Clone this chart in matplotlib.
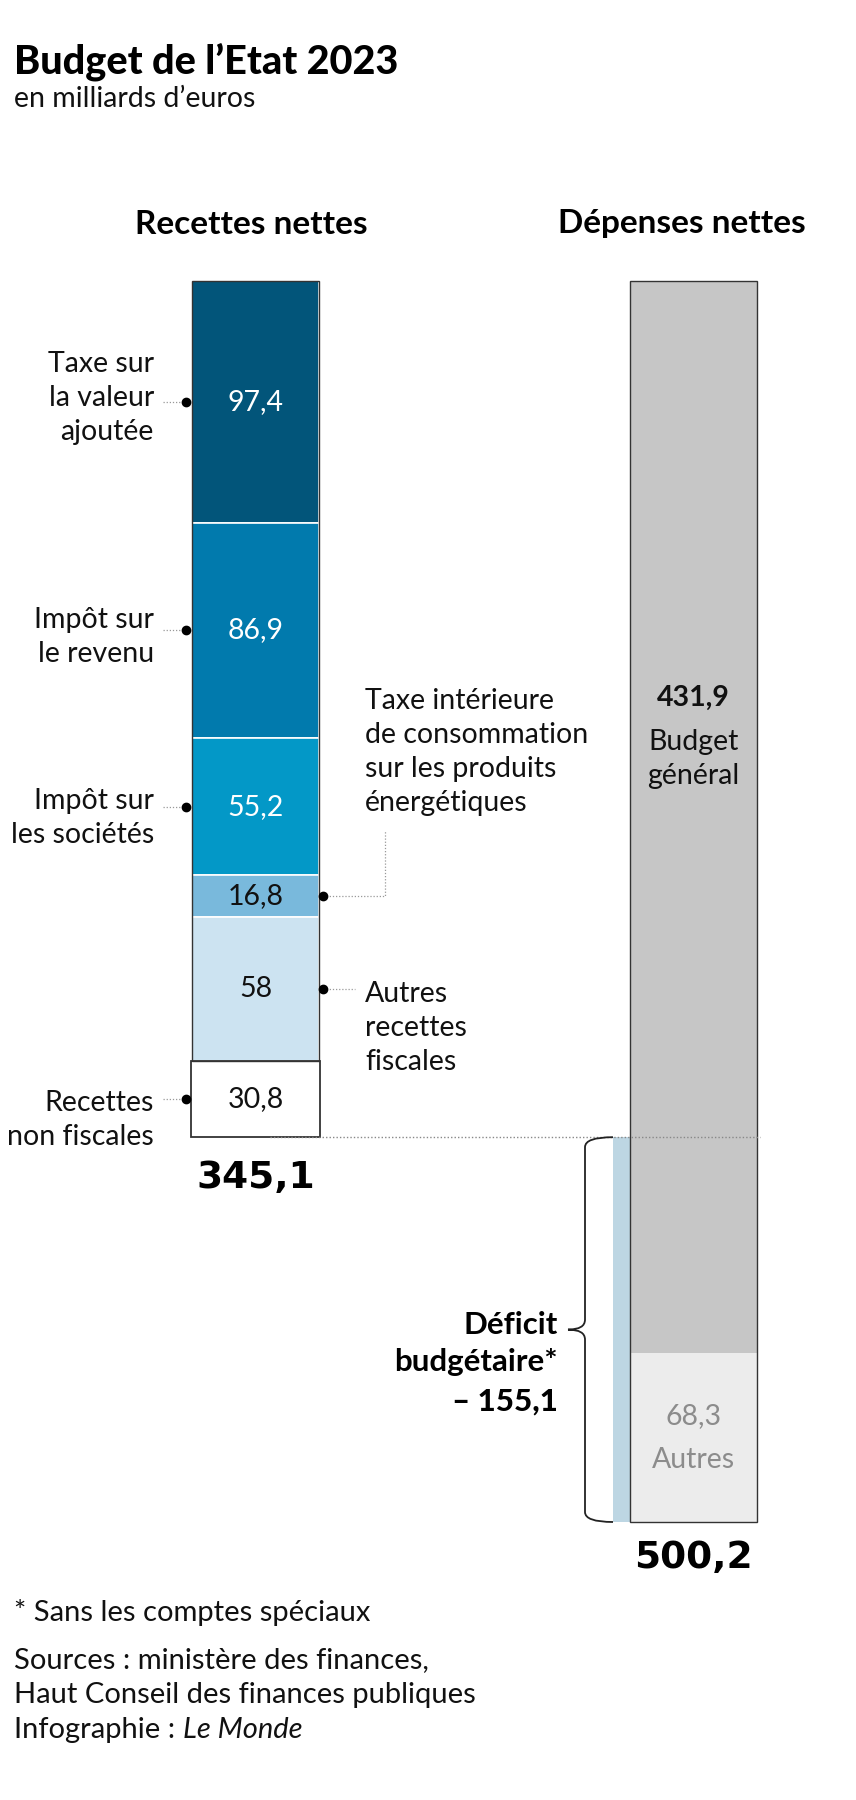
import matplotlib
matplotlib.use("Agg")
import matplotlib.pyplot as plt
from matplotlib.path import Path
from matplotlib.patches import PathPatch
import numpy as np

plt.rcParams['font.family'] = ['Lato', 'DejaVu Sans']

# ---------------- data ----------------
rec_labels = ["Taxe sur\nla valeur\najoutée", "Impôt sur\nle revenu", "Impôt sur\nles sociétés",
              "Taxe intérieure\nde consommation\nsur les produits\nénergétiques",
              "Autres\nrecettes\nfiscales", "Recettes\nnon fiscales"]
rec_values = [97.4, 86.9, 55.2, 16.8, 58.0, 30.8]
rec_texts = ["97,4", "86,9", "55,2", "16,8", "58", "30,8"]
rec_colors = ["#02557a", "#017aad", "#0398c7", "#79b9dc", "#cce3f1", "#ffffff"]
rec_textcolors = ["white", "white", "white", "#111111", "#111111", "#111111"]

dep_labels = ["Budget\ngénéral", "Autres"]
dep_values = [431.9, 68.3]
dep_texts = ["431,9", "68,3"]
dep_colors = ["#c6c6c6", "#ececec"]

total_rec = "345,1"
total_dep = "500,2"
deficit_value = 155.1
deficit_text = "– 155,1"

# ---------------- layout helpers ----------------
W, H = 856, 1800
fig = plt.figure(figsize=(W / 100, H / 100), dpi=100)
ax = fig.add_axes([0, 0, 1, 1])
TOP_PX = 281.0
PX_PER_UNIT = (1522.0 - TOP_PX) / 500.2
ax.set_xlim(0, W)
ax.set_ylim((H - TOP_PX) / PX_PER_UNIT, -TOP_PX / PX_PER_UNIT)
ax.axis("off")

FS = 20.5
LS = 1.38


def v(px):
    return (px - TOP_PX) / PX_PER_UNIT


def ftext(x, y, s, **kw):
    return fig.text(x / W, 1 - y / H, s, **kw)


XL, XR, BW = 255.5, 693.5, 127

# ---------------- bars ----------------
rec_bottoms = np.concatenate([[0], np.cumsum(rec_values)[:-1]])
ax.bar([XL] * len(rec_values), rec_values, bottom=rec_bottoms, width=BW,
       color=rec_colors, edgecolor="white", linewidth=1.2, zorder=2)
ax.bar(XL, rec_values[-1], bottom=rec_bottoms[-1], width=BW + 2, color="white",
       edgecolor="#333333", linewidth=1.3, zorder=3)
ax.bar(XL, sum(rec_values[:-1]), bottom=0, width=BW, fill=False,
       edgecolor="#333333", linewidth=1.0, zorder=4)

dep_bottoms = np.concatenate([[0], np.cumsum(dep_values)[:-1]])
ax.bar([XR] * len(dep_values), dep_values, bottom=dep_bottoms, width=BW,
       color=dep_colors, edgecolor="none", zorder=2)
ax.bar(XR, sum(dep_values), bottom=0, width=BW, fill=False,
       edgecolor="#333333", linewidth=1.0, zorder=4)

# deficit strip
total_r = sum(rec_values)
ax.bar(621.5, deficit_value, bottom=total_r, width=17, color="#bdd6e3", zorder=1)

# dotted reference line at recettes total
ax.plot([270, 760], [total_r, total_r], color="#888888", lw=1, ls=(0, (1, 1.5)), zorder=5)

# ---------------- segment values ----------------
for val, bot, t, tc in zip(rec_values, rec_bottoms, rec_texts, rec_textcolors):
    ax.text(XL, bot + val / 2, t, ha="center", va="center", fontsize=FS, color=tc, zorder=6)

# ---------------- left labels ----------------
left_idx = [0, 1, 2, 5]
left_text_px = [398, 637, 818, 1120]
for i, ty in zip(left_idx, left_text_px):
    mid = rec_bottoms[i] + rec_values[i] / 2
    ax.plot([163, 184], [mid, mid], color="#999999", lw=0.9, ls=(0, (1, 1.5)), zorder=5)
    ax.plot([186], [mid], "o", color="black", ms=6, zorder=6)
    ax.text(154, v(ty), rec_labels[i], ha="right", va="center", fontsize=FS,
            linespacing=LS, color="#111111")

# right labels
i = 3
mid = rec_bottoms[i] + rec_values[i] / 2
ax.plot([323, 385, 385], [mid, mid, v(830)], color="#999999", lw=0.9, ls=(0, (1, 1.5)), zorder=5)
ax.plot([323], [mid], "o", color="black", ms=6, zorder=6)
ax.text(365, v(752), rec_labels[i], ha="left", va="center", fontsize=FS,
        linespacing=LS, color="#111111")
i = 4
mid = rec_bottoms[i] + rec_values[i] / 2
ax.plot([323, 355], [mid, mid], color="#999999", lw=0.9, ls=(0, (1, 1.5)), zorder=5)
ax.plot([323], [mid], "o", color="black", ms=6, zorder=6)
ax.text(365, v(1028), rec_labels[i], ha="left", va="center", fontsize=FS,
        linespacing=LS, color="#111111")

# ---------------- right bar texts ----------------
ax.text(XR, v(698), dep_texts[0], ha="center", va="center", fontsize=FS,
        fontweight="bold", color="#111111")
ax.text(XR, v(759), dep_labels[0], ha="center", va="center", fontsize=FS,
        linespacing=LS, color="#111111")
ax.text(XR, v(1416), dep_texts[1], ha="center", va="center", fontsize=FS, color="#8c8c8c")
ax.text(XR, v(1460), dep_labels[1], ha="center", va="center", fontsize=FS, color="#8c8c8c")

# ---------------- totals ----------------
ax.text(XL, v(1178), total_rec, ha="center", va="center", fontsize=27,
        fontweight="bold", family="DejaVu Sans", color="black")
ax.text(XR, v(1558), total_dep, ha="center", va="center", fontsize=27,
        fontweight="bold", family="DejaVu Sans", color="black")

# ---------------- brace ----------------
y0, y1 = total_r, total_r + deficit_value
ym = (y0 + y1) / 2
r = 4.0
xs, xt, xe = 585, 568, 613
verts = [(xe, y0), (xs, y0), (xs, y0 + r),
         (xs, ym - r),
         (xs, ym), (xt, ym),
         (xs, ym), (xs, ym + r),
         (xs, y1 - r),
         (xs, y1), (xe, y1)]
codes = [Path.MOVETO, Path.CURVE3, Path.CURVE3,
         Path.LINETO,
         Path.CURVE3, Path.CURVE3,
         Path.CURVE3, Path.CURVE3,
         Path.LINETO,
         Path.CURVE3, Path.CURVE3]
ax.add_patch(PathPatch(Path(verts, codes), fill=False, edgecolor="#222222", lw=1.3, zorder=5))

ax.text(558, v(1325), "Déficit", ha="right", va="center", fontsize=22.5, fontweight="bold")
ax.text(558, v(1362), "budgétaire*", ha="right", va="center", fontsize=22.5, fontweight="bold")
ax.text(558, v(1402), deficit_text, ha="right", va="center", fontsize=22.5, fontweight="black")

# ---------------- titles ----------------
ftext(14, 62, "Budget de l’Etat 2023", ha="left", va="center", fontsize=28.5, fontweight="black")
ftext(14, 99, "en milliards d’euros", ha="left", va="center", fontsize=20.5, color="#111111")
ftext(251, 224, "Recettes nettes", ha="center", va="center", fontsize=24, fontweight="bold")
ftext(682, 224, "Dépenses nettes", ha="center", va="center", fontsize=24, fontweight="bold")

# ---------------- footer ----------------
FF = 21
ftext(14, 1613, "* Sans les comptes spéciaux", ha="left", va="center", fontsize=FF, color="#111111")
ftext(14, 1660, "Sources : ministère des finances,", ha="left", va="center", fontsize=FF, color="#111111")
ftext(14, 1695, "Haut Conseil des finances publiques", ha="left", va="center", fontsize=FF, color="#111111")
t = ftext(14, 1730, "Infographie : ", ha="left", va="center", fontsize=FF, color="#111111")
fig.canvas.draw()
bb = t.get_window_extent()
fig.text(bb.x1 / W, 1 - 1730 / H, "Le Monde", ha="left", va="center", fontsize=FF,
         style="italic", color="#111111")

fig.savefig("out.png", dpi=100, facecolor="white")
